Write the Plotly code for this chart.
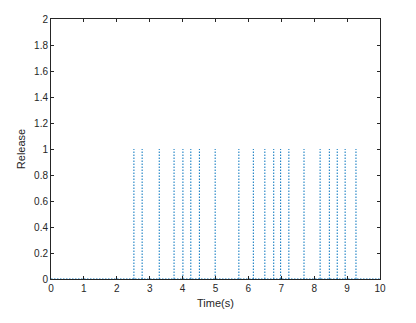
import plotly.graph_objects as go

spike_times = [2.52, 2.77, 3.29, 3.74, 4.01, 4.25, 4.51, 4.99, 5.71, 6.15,
               6.50, 6.77, 6.98, 7.23, 7.69, 8.18, 8.46, 8.70, 8.94, 9.27]
spike_height = 1
t_start, t_end = 0, 10
x_ticks = list(range(0, 11))
y_ticks = [0, 0.2, 0.4, 0.6, 0.8, 1, 1.2, 1.4, 1.6, 1.8, 2]

xs, ys = [], []
for t in spike_times:
    xs += [t, t, None]
    ys += [0, spike_height, None]
xs += [t_start, t_end]
ys += [0, 0]

fig = go.Figure()
fig.add_trace(go.Scatter(x=xs, y=ys, mode="lines",
                         line=dict(color="#0072BD", width=1, dash="1.5px,1.5px"),
                         showlegend=False, hoverinfo="skip"))

axcol = "#262626"
fig.update_layout(
    width=416, height=323,
    margin=dict(l=51, r=36, t=19, b=44),
    paper_bgcolor="white", plot_bgcolor="white",
    font=dict(family="Liberation Sans, Arial, sans-serif", size=10, color=axcol),
    xaxis=dict(range=[0, 10], tickvals=x_ticks, ticks="inside", ticklen=3,
               showline=True, linecolor=axcol, linewidth=1, mirror="ticks",
               showgrid=False, zeroline=False, tickcolor=axcol,
               title=dict(text="Time(s)", font=dict(size=11), standoff=6)),
    yaxis=dict(range=[0, 2], tickvals=y_ticks, ticks="inside", ticklen=3,
               showline=True, linecolor=axcol, linewidth=1, mirror="ticks",
               showgrid=False, zeroline=False, tickcolor=axcol,
               title=dict(text="Release", font=dict(size=11), standoff=6)),
)
fig.write_html("out.html")
